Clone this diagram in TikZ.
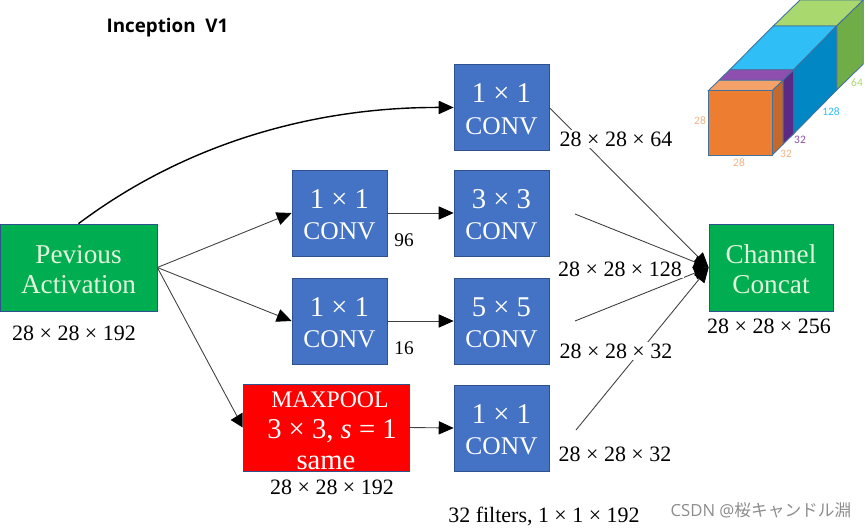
\documentclass[tikz,border=0pt]{standalone}
\usepackage{fontspec}
\setmainfont{Liberation Serif}
\setsansfont{Open Sans}
\newfontfamily\cjk{Noto Sans CJK JP}
\newfontfamily\cubefont{Carlito}
\usetikzlibrary{arrows.meta}
\definecolor{convblue}{HTML}{4472C4}
\definecolor{boxedge}{HTML}{2F528F}
\definecolor{prevgreen}{HTML}{00AD50}
\definecolor{textgreen}{HTML}{E2F5DC}
\definecolor{cubeedge}{HTML}{41719C}
\newcommand{\bigline}{\fontsize{16.3}{17.8}\selectfont}
\newcommand{\droptext}{\rule{0pt}{12.6pt}}
\tikzset{
    block/.style={draw=boxedge,text=white,align=center,inner sep=0pt,
        font=\fontsize{14.5}{17.8}\selectfont},
    convbox/.style={block,fill=convblue,minimum width=1.9cm,minimum height=1.72cm},
    greenbox/.style={block,fill=prevgreen,text=textgreen,minimum height=1.74cm,
        font=\fontsize{15.5}{17.5}\selectfont},
    poolbox/.style={block,fill=red,minimum width=3.32cm,minimum height=1.74cm,
        font=\fontsize{13.5}{17.8}\selectfont},
    dim/.style={fill=white,inner sep=1pt,font=\fontsize{12.5}{15}\selectfont},
    count/.style={inner sep=1pt,font=\fontsize{11}{13}\selectfont},
    conn/.style={-{Triangle[length=8.5pt,width=7.5pt,color=black,fill=black]},line width=0.5pt,draw=black!75},
    cubelabel/.style={inner sep=0pt,font=\cubefont\fontsize{6.5}{7}\selectfont}
}
\begin{document}
\begin{tikzpicture}[x=0.02cm,y=-0.02cm]
    \useasboundingbox (0,0) rectangle (866,528);

    % Title
    \node[font=\sffamily\bfseries\fontsize{10.7}{12}\selectfont] (title) at (167.5,27.5) {Inception\ \ V1};

    % Input and output
    \node[greenbox,minimum width=3.14cm] (prev) at (78.5,267.5) {\droptext Pevious\\Activation};
    \node[greenbox,minimum width=2.48cm] (concat) at (771,267.5) {\droptext Channel\\Concat};

    % Inner column
    \node[convbox] (convb) at (339.5,213) {\droptext{\bigline 1 × 1}\\CONV};
    \node[convbox] (convc) at (339.5,321) {\droptext{\bigline 1 × 1}\\CONV};
    \node[poolbox] (maxpool) at (326,427.5)
        {\droptext\hspace*{4.5pt}MAXPOOL\\\hspace*{6.8pt}{\bigline 3 × 3, \textit{s} = 1}\\{\bigline same}};

    % Outer column
    \node[convbox] (outa) at (501.5,107.5) {\droptext{\bigline 1 × 1}\\CONV};
    \node[convbox] (outb) at (501.5,213) {\droptext{\bigline 3 × 3}\\CONV};
    \node[convbox] (outc) at (501.5,321) {\droptext{\bigline 5 × 5}\\CONV};
    \node[convbox] (outd) at (501.5,428) {\droptext{\bigline 1 × 1}\\CONV};

    % Free ends of the lines
    \coordinate (startb) at (575,214);
    \coordinate (startc) at (575,321);
    \coordinate (startd) at (576,430);
    \coordinate (poolend) at (238,418);

    % Connections
    \draw[conn,line width=0.8pt,draw=black] (prev.north) .. controls (190,140) and (320,107) .. (outa.west);
    \draw[conn] (prev.east) -- (convb.west);
    \draw[conn] (prev.east) -- (convc.west);
    \draw[line width=0.5pt,draw=black!75] (prev.east) -- (poolend);
    \fill (maxpool.west) ++(0,-15) -- ++(0,15) -- ++(-12,-7.5) -- cycle;
    \draw[conn] (convb.east) -- (outb.west);
    \draw[conn] (convc.east) -- (outc.west);
    \draw[conn] (maxpool.east) -- (outd.west);
    \draw[conn] (outa.east) -- (concat.west);
    \draw[conn] (startb) -- (concat.west);
    \draw[conn] (startc) -- (concat.west);
    \draw[conn] (startd) -- (concat.west);

    % Sizes
    \node[dim] (sizeprev) at (74,333) {28 × 28 × 192};
    \node[dim] (sizepool) at (332,487) {28 × 28 × 192};
    \node[dim] (sizea) at (616,139) {28 × 28 × 64};
    \node[dim] (sizeb) at (620,269) {28 × 28 × 128};
    \node[dim] (sizec) at (616,351) {28 × 28 × 32};
    \node[dim] (sized) at (615,454) {28 × 28 × 32};
    \node[dim] (sizeout) at (769,326) {28 × 28 × 256};
    \node[dim] (filters) at (544,516) {32 filters, 1 × 1 × 192};
    \node[count] (nb) at (404,240) {96};
    \node[count] (nc) at (404,348) {16};

    % Cube
    \begin{scope}[draw=cubeedge,line width=0.5pt]
        \filldraw[fill={rgb,255:red,169;green,216;blue,110}] (773.3,26) -- (800,0) -- (863.3,0) -- (836.7,26) -- cycle;
        \filldraw[fill={rgb,255:red,112;green,173;blue,71}] (836.7,26) -- (863.3,0) -- (863.3,64) -- (836.7,90) -- cycle;
        \filldraw[fill={rgb,255:red,47;green,190;blue,245}] (729.7,69.7) -- (773.3,26) -- (836.7,26) -- (793.7,69.7) -- cycle;
        \filldraw[fill={rgb,255:red,0;green,135;blue,196}] (793.7,69.7) -- (836.7,26) -- (836.7,90) -- (793.7,133.7) -- cycle;
        \filldraw[fill={rgb,255:red,142;green,79;blue,174}] (719,80.3) -- (729.7,69.7) -- (793.7,69.7) -- (783,80.3) -- cycle;
        \filldraw[fill={rgb,255:red,91;green,42;blue,134}] (783,80.3) -- (793.7,69.7) -- (793.7,133.7) -- (783,144.3) -- cycle;
        \filldraw[fill={rgb,255:red,244;green,162;blue,106}] (708.3,90.7) -- (719,80.3) -- (783,80.3) -- (772.3,90.7) -- cycle;
        \filldraw[fill={rgb,255:red,197;green,104;blue,43}] (772.3,90.7) -- (783,80.3) -- (783,144.3) -- (772.3,155) -- cycle;
        \filldraw[fill={rgb,255:red,237;green,125;blue,49}] (708.3,90.7) rectangle (772.3,155);
    \end{scope}
    \node[cubelabel,text={rgb,255:red,244;green,177;blue,131}] (cubeh) at (700,121) {28};
    \node[cubelabel,text={rgb,255:red,244;green,177;blue,131}] (cubew) at (739,163) {28};
    \node[cubelabel,text={rgb,255:red,244;green,177;blue,131}] (cubeo) at (786,154) {32};
    \node[cubelabel,text={rgb,255:red,142;green,79;blue,174}] (cubep) at (800,140) {32};
    \node[cubelabel,text={rgb,255:red,47;green,190;blue,245}] (cubeb) at (831,112) {128};
    \node[cubelabel,text={rgb,255:red,169;green,216;blue,110}] (cubeg) at (857,83) {64};

    % Watermark
    \node[text=black!45,inner sep=0pt,font=\sffamily\fontsize{9.5}{11}\selectfont] (mark) at (761,510) {CSDN @{\cjk 桜キャンドル淵}};
\end{tikzpicture}
\end{document}
